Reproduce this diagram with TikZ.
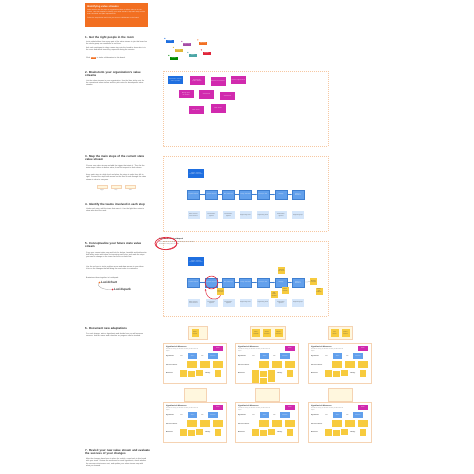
\documentclass[tikz,border=0pt]{standalone}
\usepackage{fontspec}
\setmainfont{Liberation Sans}
\usetikzlibrary{positioning,arrows.meta}

\definecolor{lorange}{HTML}{F26F21}
\definecolor{lmagenta}{HTML}{D12AAE}
\definecolor{ldarkblue}{HTML}{1F6FE0}
\definecolor{lstep}{HTML}{62A0EC}
\definecolor{lstepdark}{HTML}{3F7FD0}
\definecolor{lteam}{HTML}{D5E6FA}
\definecolor{lyellow}{HTML}{F7CB3E}
\definecolor{lcream}{HTML}{FFF7DE}
\definecolor{zoneline}{HTML}{F6C8A2}
\definecolor{cardline}{HTML}{F5D3B3}
\definecolor{lred}{HTML}{E0263A}

\newcommand{\hfont}{\fontsize{2.9}{3.6}\selectfont\bfseries}
\newcommand{\bfont}{\fontsize{1.8}{2.45}\selectfont}
\newcommand{\nfont}{\fontsize{1.25}{1.5}\selectfont}

\begin{document}
\begin{tikzpicture}[x=1pt,y=-1pt,
  hdg/.style={anchor=north west,inner sep=0pt,text width=66pt,align=left,font=\hfont,text=black!85},
  txt/.style={anchor=north west,inner sep=0pt,text width=61pt,align=left,font=\bfont,text=black!75},
  zone/.style={draw=zoneline,line width=0.45pt,dash pattern=on 1pt off 1pt},
  note/.style={inner sep=0pt,align=center,font=\nfont,text=white},
  magnote/.style={note,fill=lmagenta,minimum width=15pt,minimum height=8.5pt,text width=14pt},
  stepbox/.style={note,fill=lstep,draw=lstepdark,line width=0.2pt,minimum width=12pt,minimum height=9pt,text width=11pt},
  teambox/.style={note,fill=lteam,text=black!70,minimum width=12pt,minimum height=8pt,text width=11pt},
  ysticky/.style={note,fill=lyellow,text=black!70,minimum width=7pt,minimum height=7pt,text width=6.5pt},
  tag/.style={note,fill=#1,minimum width=8pt,minimum height=3pt},
  cream/.style={fill=lcream,draw=cardline,line width=0.3pt},
  card/.style={draw=cardline,fill=white,line width=0.35pt,minimum width=63pt,minimum height=40pt,anchor=north west,inner sep=0pt},
  clabel/.style={anchor=west,inner sep=0pt,font=\fontsize{1.4}{1.6}\selectfont\bfseries,text=black!75},
  flow/.style={-{Stealth[length=1.2pt,width=1.2pt]},line width=0.25pt,draw=lstepdark}
]
\useasboundingbox (0,0) rectangle (474,474);

% header
\node[fill=lorange,anchor=north west,minimum width=63pt,minimum height=24pt,inner sep=0pt] (header) at (85,3) {};
\node[anchor=north west,inner sep=0pt,text width=58pt,font=\fontsize{2.6}{3}\selectfont\bfseries,text=white] (htitle) at (87,5) {Identifying value streams};
\node[anchor=north west,inner sep=0pt,text width=59pt,font=\fontsize{1.6}{2.2}\selectfont,text=white] (hbody) at (87,9) {Value streams are the steps an organization takes to deliver value to its customers. Use this template to identify your value streams, map each step and the teams involved, and plan improvements.\par\vspace{1.2pt}Follow the steps below and invite your team to collaborate on the board.};

% 1
\node[hdg] (h1) at (85,36) {1. Get the right people in the room};
\node[txt] (t1a) at (86,40.5) {Invite stakeholders from every part of the value stream to join this board so the whole group can contribute in real time.};
\node[txt] (t1b) at (86,47) {Ask each participant to drag a name tag onto the board to show who is in the room and which team they represent during the session.};
\node[txt] (t1c) at (86,56.5) {Click {\setlength\fboxsep{0.4pt}\colorbox{lorange}{\textcolor{white}{Share}}} to invite collaborators to this board.};
\foreach \x/\y/\c/\lbl [count=\i] in {170/41.5/ldarkblue/Product,187/44.5/violet!70/Engineering,203/43/lorange/Marketing,178.5/50.5/lyellow!90!black/Design,193/55.5/teal!70/Sales,206.5/53/lred/Support,174/58.5/green!55!black/Finance}{
  \node[tag=\c] (tag\i) at (\x,\y) {\lbl};
  \fill[\c] ([shift={(-1,-1.4)}]tag\i.north west) circle (0.6);
}

% 2
\node[hdg] (h2) at (85,71) {2. Brainstorm your organization's value streams};
\node[txt] (t2) at (86,79.5) {List the value streams in your organization. Use the blue sticky note for the operational value stream and the pink notes for development value streams.};
\draw[zone] (163,71) rectangle (328,146);
\node[note,fill=ldarkblue,minimum width=15pt,minimum height=8.5pt,text width=14pt] (ops) at (175.5,80) {Operational: customer orders a product};
\node[magnote] (v1) at (197,80.5) {Develop new product features};
\node[magnote] (v2) at (218,81.5) {Onboard new customers};
\node[magnote] (v3) at (238.5,80) {Resolve support tickets};
\node[magnote] (v4) at (186,94) {Manage product releases};
\node[magnote] (v5) at (206.5,94.5) {Value stream};
\node[magnote] (v6) at (227.5,96) {Value stream};
\node[magnote] (v7) at (196,110) {Value stream};
\node[magnote] (v8) at (218,108.5) {Value stream};

% 3
\node[hdg] (h3) at (85,155) {3. Map the main steps of the current state value stream};
\node[txt] (t3a) at (86,164.5) {Choose one value stream and add the trigger that starts it. Then list the main steps it takes to deliver value, from first request to final release.};
\node[txt] (t3b) at (86,174) {Keep each step at a high level and place the steps in order from left to right. Connect the steps with arrows so the flow of work through the value stream is clear to everyone.};
\node[cream,minimum width=10pt,minimum height=3.5pt,inner sep=0pt] (k1) at (102,186.5) {};
\node[cream,minimum width=10pt,minimum height=3.5pt,inner sep=0pt] (k2) at (116,186.5) {};
\node[cream,minimum width=10pt,minimum height=3.5pt,inner sep=0pt] (k3) at (130.5,186.5) {};
\node[font=\nfont,text=black!60,inner sep=0pt,below=0.6pt of k1] (kl1) {Trigger};
\node[font=\nfont,text=black!60,inner sep=0pt,below=0.6pt of k2] (kl2) {Step};
\node[font=\nfont,text=black!60,inner sep=0pt,below=0.6pt of k3] (kl3) {Team};

\draw[zone] (163,156) rectangle (328,231);
\node[note,fill=ldarkblue,minimum width=16pt,minimum height=9pt,text width=15pt] (trg1) at (196,173.5) {Trigger: customer requests a new feature};
\foreach \x/\lbl [count=\i] in {193.5/Capture Request,211.5/Prioritize Request,228.5/Plan and Scope,245.5/Design and Build,263/Develop \& Test,281/Shipping,298/Deploy to Production}
  \node[stepbox] (a\i) at (\x,194.5) {\lbl};
\foreach \i/\j in {1/2,2/3,3/4,4/5,5/6,6/7}
  \draw[flow] (a\i) -- (a\j);
\foreach \x/\lbl [count=\i] in {193.5/Sales and Customer Success,211.5/Product Management,228.5/Product Management,245.5/Engineering Team,263/Engineering Team,281/Product Management,298/Engineering Ops}
  \node[teambox] (m\i) at (\x,215) {\lbl};

% 4
\node[hdg] (h4) at (85,203) {4. Identify the teams involved in each step};
\node[txt] (t4) at (86,207.5) {Under each step, add the team that owns it. Use the light blue notes to show who does the work.};

% 5
\node[hdg] (h5) at (85,242) {5. Conceptualize your future state value stream};
\node[txt] (t5a) at (86,251.5) {Copy your current state map and look for delays, handoffs and bottlenecks. Add sticky notes with ideas for improving each step, and mark the steps you want to change so the team can focus on them first.};
\node[txt] (t5b) at (86,265.5) {Use the red pen to circle problem areas and draw arrows to your ideas. Vote on the changes that will bring the most value to customers.};
\node[txt] (t5c) at (86,276.5) {Brainstorm ideas together in Lucidspark.};
\node[anchor=west,inner sep=0pt,font=\fontsize{3.1}{3.5}\selectfont\bfseries,text=black!80] (lchart) at (101,282.5) {Lucidchart};
\node[anchor=west,inner sep=0pt,font=\fontsize{3.1}{3.5}\selectfont\bfseries,text=black!80] (lspark) at (114,289.5) {Lucidspark};
\fill[lorange] ([xshift=-1.4pt]lchart.west) circle (0.9);
\fill[lred] ([xshift=-1.4pt]lspark.west) circle (0.9);
\draw[black!40,line width=0.3pt] ([xshift=-2.5pt]lchart.west) .. controls (96,287) and (104,290) .. ([xshift=-2.5pt]lspark.west);

\draw[zone] (163,241) rectangle (328,316);
\node[anchor=north west,inner sep=0pt,font=\fontsize{1.8}{2.2}\selectfont\bfseries,text=black!85] (anntitle) at (159,238.3) {Brainstorm with Lucidspark};
\node[anchor=north west,inner sep=0pt,text width=36pt,font=\fontsize{1.3}{1.8}\selectfont,text=black!60] (annbody) at (159,241.5) {Open this board in Lucidspark to add sticky notes, freehand drawing and voting with your team.};
\draw[lred,line width=0.7pt] (166,243.5) ellipse (11 and 6.2);
\draw[lred,line width=0.5pt,rotate around={6:(166,243.5)}] (166.5,243.8) ellipse (10.3 and 5.6);
\node[note,fill=ldarkblue,minimum width=16pt,minimum height=9pt,text width=15pt] (trg2) at (196,261.5) {Trigger: customer requests a new feature};
\foreach \x/\lbl [count=\i] in {193.5/Capture Request,211.5/Prioritize Request,228.5/Plan and Scope,245.5/Design and Build,263/Develop \& Test,281/Shipping,298/Deploy to Production}
  \node[stepbox] (b\i) at (\x,282.5) {\lbl};
\foreach \i/\j in {1/2,2/3,3/4,4/5,5/6,6/7}
  \draw[flow] (b\i) -- (b\j);
\foreach \x/\lbl [count=\i] in {193.5/Sales and Customer Success,211.5/Product Management,228.5/Product Management,245.5/Engineering Team,263/Engineering Team,281/Product Management,298/Engineering Ops}
  \node[teambox] (u\i) at (\x,302.5) {\lbl};
\node[ysticky] (ya) at (281.5,270.5) {Automate QA checks};
\node[ysticky] (yb) at (285,290) {Reduce handoffs};
\node[ysticky] (yc) at (274,294.5) {Add release checklist};
\node[ysticky] (yd) at (313.5,281.5) {Measure lead time};
\node[ysticky] (ye) at (319,291) {Gather user feedback};
\node[ysticky] (yf) at (220.5,291.5) {Merge into one review};
\draw[black!40,line width=0.25pt] (b7) -- (yd);
\draw[lred,line width=0.6pt] (b2.center) circle (6.4);
\draw[lred,line width=0.5pt,-{Stealth[length=1.6pt,width=1.6pt]}] (yf.south) .. controls (219,301) and (206,301) .. (205.5,289);

% 6
\node[hdg] (h6) at (85,327) {6. Document new adaptations};
\node[txt] (t6) at (86,332.5) {For each change, write a hypothesis and decide how you will measure success. Add an owner and a timeline so progress can be tracked.};
\foreach \cx/\cy [count=\k] in {163/343,235/343,308/343,163/402,235/402,308/402}{
  \node[card] (card\k) at (\cx,\cy) {};
  \node[anchor=north west,inner sep=0pt,font=\fontsize{1.8}{2}\selectfont\bfseries,text=black!85] (ct\k) at (\cx+3,\cy+3) {Hypothesis \& Measures};
  \node[anchor=north west,inner sep=0pt,text width=34pt,font=\fontsize{1.1}{1.4}\selectfont,text=black!60] (cd\k) at (\cx+3,\cy+5.6) {Describe the change you will make and how you will measure its impact.};
  \node[note,fill=lmagenta,minimum width=10pt,minimum height=5.5pt] (co\k) at (\cx+55,\cy+5.5) {Owner};
  \node[clabel] (chl\k) at (\cx+3,\cy+13) {Hypothesis:};
  \node[clabel,font=\nfont] (cif\k) at (\cx+17,\cy+13) {If we};
  \node[note,fill=lstep,minimum width=9pt,minimum height=6pt] (cha\k) at (\cx+29.5,\cy+13) {Action};
  \node[clabel,font=\nfont] (cth\k) at (\cx+38,\cy+13) {then};
  \node[note,fill=lstep,minimum width=10pt,minimum height=6pt] (chb\k) at (\cx+50,\cy+13) {Outcome};
  \node[clabel] (csl\k) at (\cx+3,\cy+21.5) {Success criteria:};
  \node[ysticky,minimum width=10pt] (cs\k a) at (\cx+29,\cy+21.5) {};
  \node[ysticky,minimum width=10pt] (cs\k b) at (\cx+42,\cy+21.5) {};
  \node[ysticky,minimum width=10pt] (cs\k c) at (\cx+55,\cy+21.5) {};
  \node[clabel] (cml\k) at (\cx+3,\cy+30.5) {Measures:};
  \node[ysticky,minimum width=6pt,minimum height=6.5pt] (cm\k a) at (\cx+20.5,\cy+30.5) {};
  \node[ysticky,minimum width=6pt,minimum height=6.5pt] (cm\k b) at (\cx+28.5,\cy+31) {};
  \node[ysticky,minimum width=6pt,minimum height=6.5pt] (cm\k c) at (\cx+36.5,\cy+30) {};
  \node[clabel] (ctl\k) at (\cx+42,\cy+30.5) {Timing:};
  \node[ysticky,minimum width=6pt,minimum height=6.5pt] (cm\k d) at (\cx+55,\cy+30.5) {};
}
% extra measures on the second card
\node[ysticky,minimum width=6pt,minimum height=6pt] (cx1) at (255.5,380) {};
\node[ysticky,minimum width=6pt,minimum height=6pt] (cx2) at (263.5,381) {};
\node[ysticky,minimum width=6pt,minimum height=6pt] (cx3) at (271.5,379) {};

% frames above the cards
\draw[cream] (188,326.5) rectangle (207,339.5);
\draw[cream] (250,326.5) rectangle (285,339.5);
\draw[cream] (328,326.5) rectangle (352,339.5);
\node[ysticky,minimum width=7pt,minimum height=8pt] (fa1) at (195,333) {Faster reviews};
\node[ysticky,minimum width=8pt,minimum height=8pt] (fb1) at (256,333) {Fewer handoffs};
\node[ysticky,minimum width=8pt,minimum height=8pt] (fb2) at (267,333) {Shorter lead time};
\node[ysticky,minimum width=8pt,minimum height=8pt] (fb3) at (278.5,333) {Happier customers};
\node[ysticky,minimum width=8pt,minimum height=8pt] (fc1) at (334.5,333) {Less rework};
\node[ysticky,minimum width=8pt,minimum height=8pt] (fc2) at (345.5,333) {Quicker releases};
\draw[cream] (184,388) rectangle (206,401);
\draw[cream] (255,388) rectangle (279,401);
\draw[cream] (328,388) rectangle (352,401);

% 7
\node[hdg] (h7) at (85,449) {7. Revisit your new value stream and evaluate the success of your changes};
\node[txt] (t7) at (86,458) {After the changes have been in place for a while, come back to this board with your team. Review the measures for each hypothesis, check whether the success criteria were met, and update your value stream map with what you learned.};
\end{tikzpicture}
\end{document}
